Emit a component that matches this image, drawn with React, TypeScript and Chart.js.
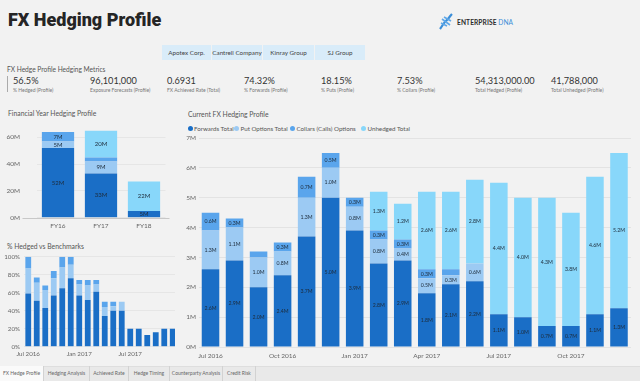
import React, { useEffect, useRef } from "react";
import { Chart, registerables } from "chart.js";
Chart.register(...registerables);

// ---------- DATA ----------
const slicerItems = ["Apotex Corp.", "Cantrell Company", "Kinray Group", "SJ Group"];
const metricValues = ["56.5%", "96,101,000", "0.6931", "74.32%", "18.15%", "7.53%", "54,313,000.00", "41,788,000"];
const metricLabels = ["% Hedged (Profile)", "Exposure Forecasts (Profile)", "FX Achieved Rate (Total)", "% Forwards (Profile)", "% Puts (Profile)", "% Collars (Profile)", "Total Hedged (Profile)", "Total Unhedged (Profile)"];
const tabs = ["FX Hedge Profile", "Hedging Analysis", "Achieved Rate", "Hedge Timing", "Counterparty Analysis", "Credit Risk"];

const fyCategories = ["FY16", "FY17", "FY18"];
const fyForwards = [52, 33, 5];
const fyPuts = [5, 9, 0];
const fyCollars = [7, 3, 0];
const fyUnhedged = [0, 20, 22];

const months = ["Jul 2016", "Aug 2016", "Sep 2016", "Oct 2016", "Nov 2016", "Dec 2016", "Jan 2017", "Feb 2017", "Mar 2017", "Apr 2017", "May 2017", "Jun 2017", "Jul 2017", "Aug 2017", "Sep 2017", "Oct 2017", "Nov 2017", "Dec 2017"];

const hedgeFwdPct = [59, 51, 43, 57, 65, 76, 57, 52, 61, 34, 40, 40, 20, 20, 13, 16, 20, 20];
const hedgePutPct = [28, 20, 20, 19, 23, 15, 12, 16, 8, 10, 5, 10, 0, 0, 0, 0, 0, 0];
const hedgeColPct = [13, 6, 5, 8, 12, 9, 5, 6, 5, 6, 5, 0, 0, 0, 0, 0, 0, 0];

const curForwards = [2.6, 2.9, 2.0, 2.4, 3.7, 5.0, 3.9, 2.8, 2.9, 1.8, 2.1, 2.2, 1.1, 1.0, 0.7, 0.7, 1.1, 1.3];
const curPuts = [1.3, 1.1, 1.0, 0.8, 1.3, 1.0, 0.8, 0.8, 0.4, 0.5, 0.3, 0.6, 0, 0, 0, 0, 0, 0];
const curCollars = [0.6, 0.3, 0.2, 0.3, 0.7, 0.5, 0.3, 0.3, 0.3, 0.3, 0.2, 0, 0, 0, 0, 0, 0, 0];
const curUnhedged = [0, 0, 0, 0, 0, 0, 0, 1.3, 1.2, 2.6, 2.6, 2.8, 4.4, 4.0, 4.3, 3.8, 4.6, 5.2];

const legendNames = ["Forwards Total", "Put Options Total", "Collars (Calls) Options", "Unhedged Total"];

// ---------- STYLE ----------
const C_FWD = "#1a6ec6";
const C_PUT = "#9ccaf3";
const C_COL = "#5aa5ec";
const C_UNH = "#88d7fa";
const BG = "#f2f2f2";
const FONT = "Lato, 'Open Sans', sans-serif";
const TXT = "#666";

Chart.defaults.font.family = FONT;

function labelPlugin(fmt: (v: number) => string, size: number, minH: number) {
  return {
    id: "valueLabels",
    afterDatasetsDraw(chart: any) {
      const ctx = chart.ctx;
      ctx.save();
      ctx.font = `${size}px ${FONT}`;
      ctx.fillStyle = "#1d2b3a";
      ctx.textAlign = "center";
      ctx.textBaseline = "middle";
      chart.data.datasets.forEach((ds: any, di: number) => {
        const meta = chart.getDatasetMeta(di);
        meta.data.forEach((el: any, i: number) => {
          const v = ds.data[i];
          if (!v) return;
          const h = Math.abs(el.base - el.y);
          if (h < minH) return;
          ctx.fillText(fmt(v), el.x, (el.y + el.base) / 2);
        });
      });
      ctx.restore();
    },
  };
}

function baselinePlugin(extLeft: number, extRight: number) {
  return {
    id: "baseline",
    afterDatasetsDraw(chart: any) {
      const ctx = chart.ctx;
      const y = Math.round(chart.scales.y.getPixelForValue(0)) + 0.5;
      ctx.save();
      ctx.strokeStyle = "#c8c8c8";
      ctx.lineWidth = 1;
      ctx.beginPath();
      ctx.moveTo(chart.chartArea.left - extLeft, y);
      ctx.lineTo(chart.chartArea.right + extRight, y);
      ctx.stroke();
      ctx.restore();
    },
  };
}

function ChartCanvas({ w, h, make }: { w: number; h: number; make: () => any }) {
  const ref = useRef<HTMLCanvasElement>(null);
  useEffect(() => {
    const chart = new Chart(ref.current as HTMLCanvasElement, make());
    return () => chart.destroy();
  }, []);
  return <canvas ref={ref} width={w} height={h} style={{ display: "block", width: w, height: h }} />;
}

const xAxis = (size: number, pad: number, h: number, cb?: (v: any, i: number) => string) => ({
  stacked: true,
  grid: { display: false, drawTicks: false },
  border: { display: false },
  ticks: {
    autoSkip: false,
    maxRotation: 0,
    minRotation: 0,
    font: { size },
    color: TXT,
    padding: pad,
    ...(cb ? { callback: cb } : {}),
  },
  afterFit: (s: any) => { s.height = h; s.paddingLeft = 0; s.paddingRight = 0; },
});

const yFit = (w: number) => (s: any) => { s.width = w; s.paddingTop = 0; s.paddingBottom = 0; };

const fyConfig = () => ({
  type: "bar",
  data: {
    labels: fyCategories,
    datasets: [
      { data: fyForwards, backgroundColor: C_FWD },
      { data: fyPuts, backgroundColor: C_PUT },
      { data: fyCollars, backgroundColor: C_COL },
      { data: fyUnhedged, backgroundColor: C_UNH },
    ],
  },
  plugins: [labelPlugin((v) => Math.round(v) + "M", 6, 6), baselinePlugin(14, 4)],
  options: {
    responsive: false,
    animation: false,
    layout: { padding: { top: 4, right: 6.5, left: 0, bottom: 0 } },
    plugins: { legend: { display: false }, tooltip: { enabled: false } },
    datasets: { bar: { categoryPercentage: 1, barPercentage: 0.75 } },
    scales: {
      x: xAxis(6.5, 4, 14.3),
      y: {
        stacked: true,
        min: 0,
        max: 70,
        afterBuildTicks: (s: any) => { s.ticks = s.ticks.filter((t: any) => t.value % 20 === 0); },
        grid: { color: "#e6e6e6", drawTicks: false },
        border: { display: false },
        ticks: { stepSize: 10, callback: (v: any) => v + "M", font: { size: 6.5 }, color: TXT, padding: 16.5 },
        afterFit: yFit(36.5),
      },
    },
  },
});

const hedgeConfig = () => ({
  type: "bar",
  data: {
    labels: months,
    datasets: [
      { data: hedgeFwdPct, backgroundColor: C_FWD },
      { data: hedgePutPct, backgroundColor: C_PUT },
      { data: hedgeColPct, backgroundColor: C_COL },
    ],
  },
  options: {
    responsive: false,
    animation: false,
    layout: { padding: { top: 6.7, right: 8, left: 0, bottom: 0 } },
    plugins: { legend: { display: false }, tooltip: { enabled: false } },
    datasets: { bar: { categoryPercentage: 1, barPercentage: 0.68 } },
    scales: {
      x: xAxis(6.2, 4, 15.3, (_v: any, i: number) => (i % 6 === 0 ? months[i] : "")),
      y: {
        stacked: true,
        min: 0,
        max: 100,
        grid: { color: "#e6e6e6", drawTicks: false },
        border: { display: false },
        ticks: { stepSize: 20, callback: (v: any) => v + "%", font: { size: 6.2 }, color: TXT, padding: 4 },
        afterFit: yFit(24),
      },
    },
  },
});

const currentConfig = () => ({
  type: "bar",
  data: {
    labels: months,
    datasets: [
      { data: curForwards, backgroundColor: C_FWD },
      { data: curPuts, backgroundColor: C_PUT },
      { data: curCollars, backgroundColor: C_COL },
      { data: curUnhedged, backgroundColor: C_UNH },
    ],
  },
  plugins: [labelPlugin((v) => v.toFixed(1) + "M", 5.2, 8)],
  options: {
    responsive: false,
    animation: false,
    layout: { padding: { top: 6, right: 5, left: 0, bottom: 0 } },
    plugins: { legend: { display: false }, tooltip: { enabled: false } },
    datasets: { bar: { categoryPercentage: 1, barPercentage: 0.73 } },
    scales: {
      x: xAxis(6.5, 5, 17, (_v: any, i: number) => (i % 3 === 0 ? months[i] : "")),
      y: {
        stacked: true,
        min: 0,
        max: 7,
        grid: { color: "#e3e3e3", drawTicks: false },
        border: { display: false },
        ticks: { stepSize: 1, callback: (v: any) => v + "M", font: { size: 6.5 }, color: TXT, padding: 2.5 },
        afterFit: yFit(22.5),
      },
    },
  },
});

const abs = (l: number, t: number, extra: any = {}) => ({ position: "absolute" as const, left: l, top: t, ...extra });

export default function App() {
  const metricX = [13, 90, 167, 244, 321, 397, 475, 551];
  const slicerX = [162, 212, 263, 315, 366];
  const legendX = [190, 236.5, 292.5, 363.5];
  const legendColors = [C_FWD, C_PUT, C_COL, C_UNH];
  const tabX = [0, 44, 90, 129, 170, 223, 256];
  return (
    <div style={{ position: "fixed", left: 0, top: 0, width: 640, height: 381, background: BG, overflow: "hidden", fontFamily: FONT, color: "#333" }}>
      {/* Title */}
      <div style={abs(8, 8, { fontFamily: "Roboto, sans-serif", fontWeight: 900, fontSize: 18, lineHeight: "24px", color: "#252525", whiteSpace: "nowrap" })}>FX Hedging Profile</div>
      {/* Logo */}
      <svg style={abs(438, 13)} width={16} height={17} viewBox="0 0 16 17">
        <path d="M2 16 C5 12, 6 9, 9 7 C11 5, 12 3, 14 1" stroke="#3b8ed8" strokeWidth={2.2} fill="none" />
        <path d="M4 6 L12 12 M6 4 L13 8 M3 10 L9 13" stroke="#5fa8e8" strokeWidth={1.6} fill="none" />
      </svg>
      <div style={abs(457, 17, { fontSize: 6.6, fontWeight: 700, lineHeight: "10px", whiteSpace: "nowrap", letterSpacing: 0.1 })}>
        <span style={{ color: "#2b2b2b" }}>ENTERPRISE</span>
        <span style={{ color: "#3b8ed8", fontWeight: 400 }}> DNA</span>
      </div>
      {/* Slicer */}
      {slicerItems.map((s, i) => (
        <div key={s} style={abs(slicerX[i], 45, { width: slicerX[i + 1] - slicerX[i] - 1, height: 15, background: "#d9ecf9", fontSize: 6.3, lineHeight: "15px", textAlign: "center", color: "#444", whiteSpace: "nowrap" })}>{s}</div>
      ))}
      {/* Metrics */}
      <div style={abs(7, 64, { fontSize: 6.6, lineHeight: "10px", color: "#555", whiteSpace: "nowrap" })}>FX Hedge Profile Hedging Metrics</div>
      <div style={abs(7, 76, { width: 1, height: 16, background: "#aaa" })} />
      {metricValues.map((v, i) => (
        <React.Fragment key={i}>
          <div style={abs(metricX[i], 75, { fontSize: 9.2, lineHeight: "12px", color: "#333", whiteSpace: "nowrap" })}>{v}</div>
          <div style={abs(metricX[i], 87, { fontSize: 5, lineHeight: "7px", color: "#777", whiteSpace: "nowrap" })}>{metricLabels[i]}</div>
        </React.Fragment>
      ))}
      {/* FY chart */}
      <div style={abs(8, 108, { fontSize: 6.8, lineHeight: "10px", color: "#555", whiteSpace: "nowrap" })}>Financial Year Hedging Profile</div>
      <div style={abs(0, 120)}>
        <ChartCanvas w={172} h={112} make={fyConfig} />
      </div>
      {/* Hedged vs benchmarks */}
      <div style={abs(7, 241, { fontSize: 6.8, lineHeight: "10px", color: "#555", whiteSpace: "nowrap" })}>% Hedged vs Benchmarks</div>
      <div style={abs(0, 250, { width: 175, height: 112, overflow: "hidden" })}>
        <ChartCanvas w={185} h={112} make={hedgeConfig} />
      </div>
      {/* Current FX chart */}
      <div style={abs(188, 109, { fontSize: 6.8, lineHeight: "10px", color: "#555", whiteSpace: "nowrap" })}>Current FX Hedging Profile</div>
      {legendNames.map((n, i) => (
        <div key={n} style={abs(legendX[i] - 2.5, 124, { height: 9, display: "flex", alignItems: "center", whiteSpace: "nowrap" })}>
          <span style={{ width: 5, height: 5, borderRadius: 3, background: legendColors[i], display: "inline-block", marginRight: 1.5 }} />
          <span style={{ fontSize: 6.2, color: "#555" }}>{n}</span>
        </div>
      ))}
      <div style={abs(176, 132)}>
        <ChartCanvas w={460} h={232} make={currentConfig} />
      </div>
      {/* Tabs */}
      <div style={abs(0, 366, { width: 640, height: 15, background: "#e9e9e9", borderTop: "1px solid #dedede" })} />
      {tabs.map((t, i) => (
        <div key={t} style={abs(tabX[i], 366, { width: tabX[i + 1] - tabX[i] - 1, height: 15, background: i === 0 ? "#fafafa" : "transparent", borderRight: "1px solid #d2d2d2", fontSize: 5, lineHeight: "15px", textAlign: "center", color: "#666", whiteSpace: "nowrap" })}>{t}</div>
      ))}
    </div>
  );
}
